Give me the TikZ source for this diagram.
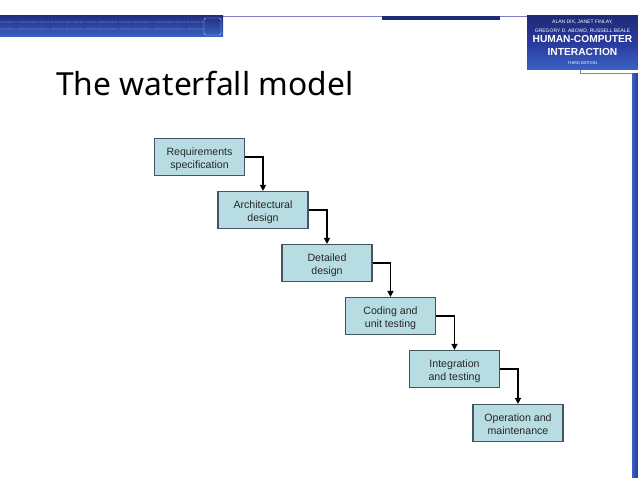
\documentclass[tikz,border=0pt]{standalone}
\usepackage{fontspec}
\setmainfont{Liberation Sans}
\newfontfamily\titlefont{Noto Sans}
\usetikzlibrary{positioning,arrows.meta}
\definecolor{boxfill}{HTML}{B7DDE3}
\definecolor{boxline}{HTML}{45555D}
\definecolor{bannerblue}{HTML}{2A3A9E}
\definecolor{bannerlight}{HTML}{3A62C4}
\definecolor{bannerdark}{HTML}{1E2A78}
\definecolor{rulecolor}{HTML}{7C7CC8}
\definecolor{digitcolor}{HTML}{6F8BD8}
\tikzset{
	stage/.style={draw=boxline,line width=1.2pt,fill=boxfill,minimum width=90pt,minimum height=37pt,
		inner sep=0pt,align=center,font=\fontsize{10.6pt}{13pt}\selectfont,text=black!85,
		text height=23pt,text depth=0pt},
	flow/.style={-{Triangle[length=6pt,width=6pt]},line width=1.6pt,black},
	covertext/.style={white,inner sep=0pt,align=center},
	digits/.style={digitcolor,inner sep=0pt,anchor=west,font=\ttfamily\fontsize{3.6pt}{4pt}\selectfont}
}

\begin{document}
\begin{tikzpicture}[x=1pt,y=-1pt]
	\useasboundingbox (0,0) rectangle (638,478);
	% header
	\draw[rulecolor,line width=.8pt] (0,16) -- (527,16);
	\shade[top color=bannerdark!80!bannerblue,bottom color=bannerlight] (0,15.5) rectangle (223,37);
	\foreach \x in {0,34,...,170} {
		\node[digits] at (\x,22.5) {00100110 011001100};
		\node[digits] at (\x,29.5) {10000011 000001100};
	}
	\draw[white!75!bannerblue,rounded corners=1.5pt] (204,18) rectangle (221,35);
	\fill[bannerdark] (382,16) rectangle (500,20);
	\shade[top color=bannerdark,bottom color=bannerlight,middle color=bannerblue] (527,16) rectangle (638,70);
	\draw[rulecolor,line width=1pt] (580,70) -- (580,74) -- (638,74);
	\shade[left color=bannerlight,right color=bannerblue] (632,74) rectangle (638,478);
	\node[covertext,font=\fontsize{5pt}{8.5pt}\selectfont] (authors) at (582.5,26.5)
		{ALAN DIX, JANET FINLAY,\\GREGORY D. ABOWD, RUSSELL BEALE};
	\node[covertext,font=\bfseries\fontsize{10.2pt}{13.5pt}\selectfont] (booktitle) at (582.5,45.5)
		{HUMAN-COMPUTER\\INTERACTION};
	\node[covertext,font=\fontsize{4pt}{5pt}\selectfont] (edition) at (582.5,63) {THIRD EDITION};
	\node[anchor=base west,inner sep=0pt,font=\titlefont\fontsize{31.8pt}{36pt}\selectfont] (heading) at (56,96)
		{The waterfall model};
	% stages
	\node[stage] (req) at (199.5,157) {Requirements\\specification};
	\node[stage] (arch) at (263,210) {Architectural\\design};
	\node[stage] (detail) at (327,263) {Detailed\\design};
	\node[stage] (code) at (390.5,316) {Coding and\\unit testing};
	\node[stage] (integ) at (454.5,369) {Integration\\and testing};
	\node[stage] (oper) at (518,423) {Operation and\\maintenance};
	% arrows
	\foreach \from/\to in {req/arch,arch/detail,detail/code,code/integ,integ/oper}
		\draw[flow] (\from.east) -| (\to.north);
\end{tikzpicture}
\end{document}
